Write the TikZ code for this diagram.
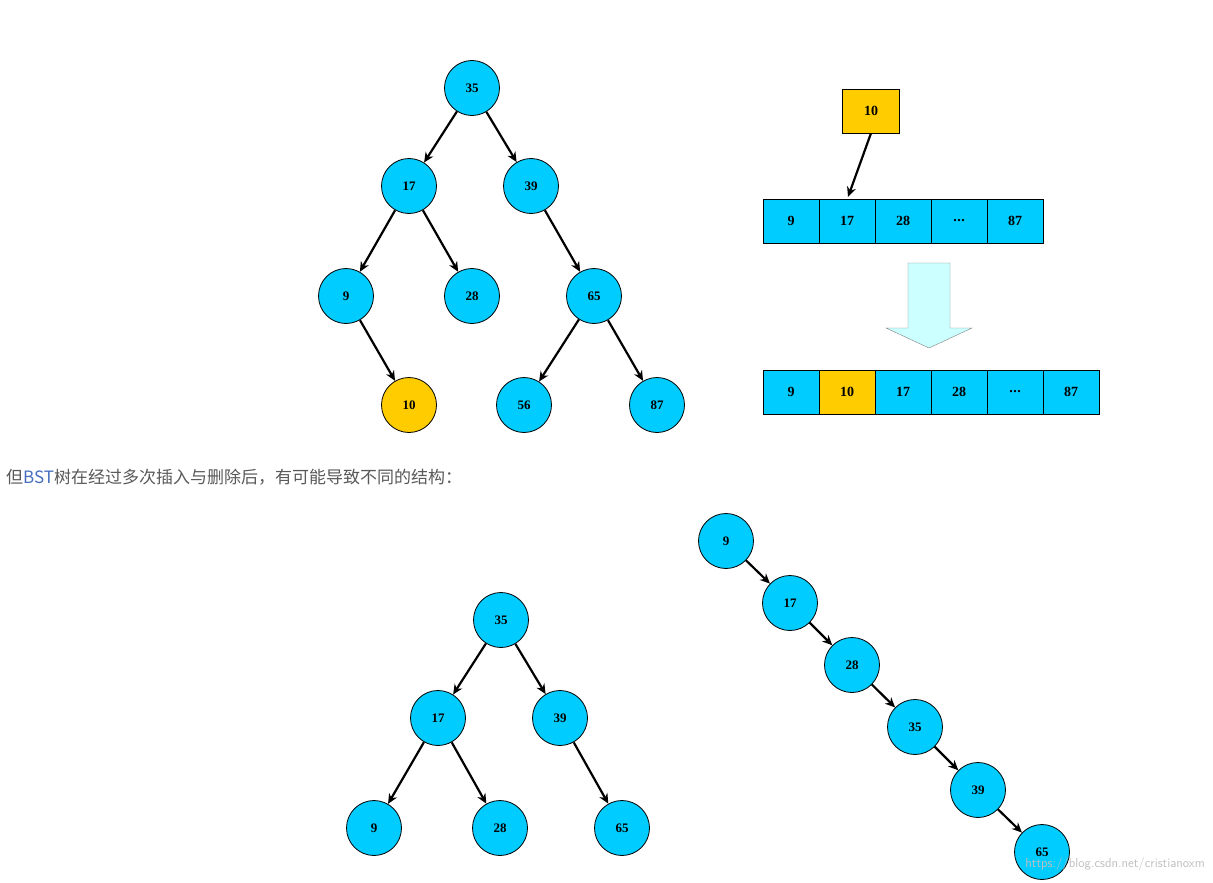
\documentclass[tikz,border=0pt]{standalone}
\usepackage{fontspec}
\setmainfont{Liberation Serif}
\newfontfamily\cjk{Noto Sans CJK SC}
\usetikzlibrary{arrows.meta}
\definecolor{cy}{RGB}{0,204,255}
\definecolor{og}{RGB}{255,204,0}
\definecolor{lc}{RGB}{204,255,255}
\newcommand{\mydots}{.\kern0.5pt.\kern0.5pt.}
\tikzset{
 bn/.style={circle,draw=black,thick,fill=cy,minimum size=55pt,inner sep=0pt,font=\bfseries\fontsize{13}{13}\selectfont},
 on/.style={bn,fill=og},
 ed/.style={line width=2.2pt,-{Stealth[length=10pt,width=9pt]}},
 cell/.style={draw=black,fill=cy,minimum width=56pt,minimum height=44pt,inner sep=0pt,font=\bfseries\fontsize{14}{14}\selectfont},
}
\begin{document}
\begin{tikzpicture}[x=1pt,y=-1pt]
\useasboundingbox[fill=white] (0,0) rectangle (1213,883);
% top tree
\node[bn] (a35) at (472,88) {35};
\node[bn] (a17) at (409,186) {17};
\node[bn] (a39) at (531,186) {39};
\node[bn] (a9) at (346,296) {9};
\node[bn] (a28) at (472,296) {28};
\node[bn] (a65) at (594,296) {65};
\node[on] (a10) at (409,405) {10};
\node[bn] (a56) at (524,405) {56};
\node[bn] (a87) at (657,405) {87};
\foreach \p/\c in {a35/a17,a35/a39,a17/a9,a17/a28,a39/a65,a9/a10,a65/a56,a65/a87}
  \draw[ed] (\p) -- (\c);
% arrays
\node[cell,fill=og,minimum width=57pt] (ins) at (871,111) {10};
\node[cell] (r0) at (791,221) {9};
\node[cell] (r1) at (847,221) {17};
\node[cell] (r2) at (903,221) {28};
\node[cell] (r3) at (959,221) {\mydots};
\node[cell] (r4) at (1015,221) {87};
\node[cell] (s0) at (791,392) {9};
\node[cell,fill=og] (s1) at (847,392) {10};
\node[cell] (s2) at (903,392) {17};
\node[cell] (s3) at (959,392) {28};
\node[cell] (s4) at (1015,392) {\mydots};
\node[cell] (s5) at (1071,392) {87};
\coordinate (tip) at (848,197);
\draw[ed] (ins.south) -- (tip);
\draw[draw=gray,fill=lc] (908,263) -- (950,263) -- (950,328) -- (972,328) -- (929,348) -- (886,328) -- (908,328) -- cycle;
% text
\node[anchor=west,inner sep=0pt,text=black!65,font=\cjk\fontsize{17}{17}\selectfont] (txt) at (6,477) {但{\color[RGB]{70,110,190}BST}树在经过多次插入与删除后，有可能导致不同的结构：};
% bottom tree
\node[bn] (b35) at (501,620) {35};
\node[bn] (b17) at (438,718) {17};
\node[bn] (b39) at (560,718) {39};
\node[bn] (b9) at (374,828) {9};
\node[bn] (b28) at (500,828) {28};
\node[bn] (b65) at (622,828) {65};
\foreach \p/\c in {b35/b17,b35/b39,b17/b9,b17/b28,b39/b65}
  \draw[ed] (\p) -- (\c);
% chain
\node[bn] (c9) at (726,541) {9};
\node[bn] (c17) at (790,603) {17};
\node[bn] (c28) at (852,665) {28};
\node[bn] (c35) at (915,727) {35};
\node[bn] (c39) at (978,790) {39};
\node[bn] (c65) at (1042,852) {65};
\foreach \p/\c in {c9/c17,c17/c28,c28/c35,c35/c39,c39/c65}
  \draw[ed] (\p) -- (\c);
\node[anchor=east,inner sep=0pt,text=black!25,font=\sffamily\fontsize{13}{13}\selectfont] (wm) at (1205,864) {https://blog.csdn.net/cristianoxm};
\end{tikzpicture}
\end{document}
